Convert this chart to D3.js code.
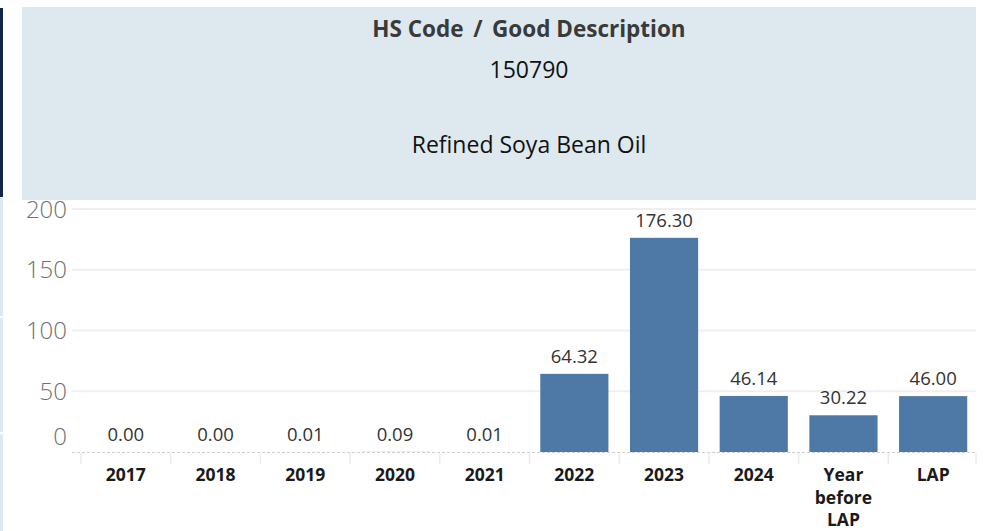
<!DOCTYPE html>
<html>
<head>
<meta charset="utf-8">
<script src="https://cdn.jsdelivr.net/npm/d3@7"></script>
<style>
  html, body { margin: 0; padding: 0; background: #fff; }
  svg { display: block; }
</style>
</head>
<body>
<div id="chart"></div>
<script>
// header texts
const headerTitle = 'HS Code \u2009/\u2009 Good Description';
const hsCode = '150790';
const goodDesc = 'Refined Soya Bean Oil';

// bar data
const categories = ['2017', '2018', '2019', '2020', '2021', '2022', '2023', '2024', 'Year before LAP', 'LAP'];
const values = [0.00, 0.00, 0.01, 0.09, 0.01, 64.32, 176.30, 46.14, 30.22, 46.00];
const yTicks = [0, 50, 100, 150, 200];

const width = 986, height = 531;
const font = '"Open Sans", "Noto Sans", sans-serif';

const svg = d3.select('#chart').append('svg')
  .attr('width', width).attr('height', height)
  .style('font-family', font);

// left edge strips (dashboard frame)
svg.append('rect').attr('x', 0).attr('y', 8).attr('width', 3).attr('height', 189).attr('fill', '#13254a');
[[198, 118], [318, 114], [434, 97]].forEach(([y0, h]) => {
  svg.append('rect').attr('x', 0).attr('y', y0).attr('width', 3).attr('height', h).attr('fill', '#dce9f0');
});

// header box
svg.append('rect').attr('x', 22).attr('y', 7).attr('width', 954).attr('height', 193).attr('fill', '#dde9ef');
const hx = 529;
svg.append('text').attr('x', hx).attr('y', 37).attr('text-anchor', 'middle')
  .style('font-size', '22.5px').style('font-weight', 'bold').attr('fill', '#3a3a3a').text(headerTitle);
svg.append('text').attr('x', hx).attr('y', 78).attr('text-anchor', 'middle')
  .style('font-size', '23px').attr('fill', '#111').text(hsCode);
svg.append('text').attr('x', hx).attr('y', 153).attr('text-anchor', 'middle')
  .style('font-size', '23px').attr('fill', '#111').text(goodDesc);

// plot
const plotLeft = 72, plotRight = 976;
const x = d3.scaleBand().domain(categories).range([81, 978]).paddingInner(0.24).paddingOuter(0.12);
const y = d3.scaleLinear().domain([0, 200]).range([452, 209]);

// gridlines
svg.append('g').selectAll('line').data(yTicks.filter(d => d > 0)).join('line')
  .attr('x1', plotLeft).attr('x2', plotRight)
  .attr('y1', d => y(d)).attr('y2', d => y(d))
  .attr('stroke', '#efefef').attr('stroke-width', 2);

// y axis labels
const yAxis = svg.append('g').attr('transform', `translate(67,0)`)
  .call(d3.axisLeft(y).tickValues(yTicks).tickSize(0).tickPadding(0));
yAxis.select('.domain').remove();
yAxis.selectAll('text')
  .style('font-family', font).style('font-size', '24px').style('font-weight', '300').attr('fill', '#707070')
  .attr('dy', '0.34em')
  .attr('transform', d => d === 0 ? 'translate(0,-16)' : null);

// bars
svg.append('g').selectAll('rect').data(values).join('rect')
  .attr('x', (d, i) => x(categories[i]))
  .attr('width', x.bandwidth())
  .attr('y', d => y(d))
  .attr('height', d => y(0) - y(d))
  .attr('fill', '#4e79a7');

// baseline (dashed)
svg.append('line').attr('x1', plotLeft).attr('x2', plotRight)
  .attr('y1', y(0) + 0.5).attr('y2', y(0) + 0.5)
  .attr('stroke', '#cfcfcf').attr('stroke-dasharray', '3,2');

// category dividers
const step = x.step();
const divs = categories.map(c => x(c) - (step - x.bandwidth()) / 2).concat([976]);
svg.append('g').selectAll('line').data(divs).join('line')
  .attr('x1', d => d).attr('x2', d => d)
  .attr('y1', y(0) + 1).attr('y2', y(0) + 12)
  .attr('stroke', '#ebebeb').attr('stroke-width', 1.5);

// value labels
svg.append('g').selectAll('text').data(values).join('text')
  .attr('x', (d, i) => x(categories[i]) + x.bandwidth() / 2)
  .attr('y', d => y(d) - 11)
  .attr('text-anchor', 'middle')
  .style('font-size', '18.5px').attr('fill', '#333')
  .text(d => d.toFixed(2));

// category labels (wrapped)
const catG = svg.append('g');
categories.forEach(c => {
  const lines = c === 'Year before LAP' ? ['Year', 'before', 'LAP'] : [c];
  const t = catG.append('text')
    .attr('x', x(c) + x.bandwidth() / 2)
    .attr('y', 481)
    .attr('text-anchor', 'middle')
    .style('font-size', '17.5px').style('font-weight', 'bold').attr('fill', '#1a1a1a');
  lines.forEach((l, i) => t.append('tspan').attr('x', x(c) + x.bandwidth() / 2).attr('dy', i === 0 ? 0 : 22.5).text(l));
});
</script>
</body>
</html>
